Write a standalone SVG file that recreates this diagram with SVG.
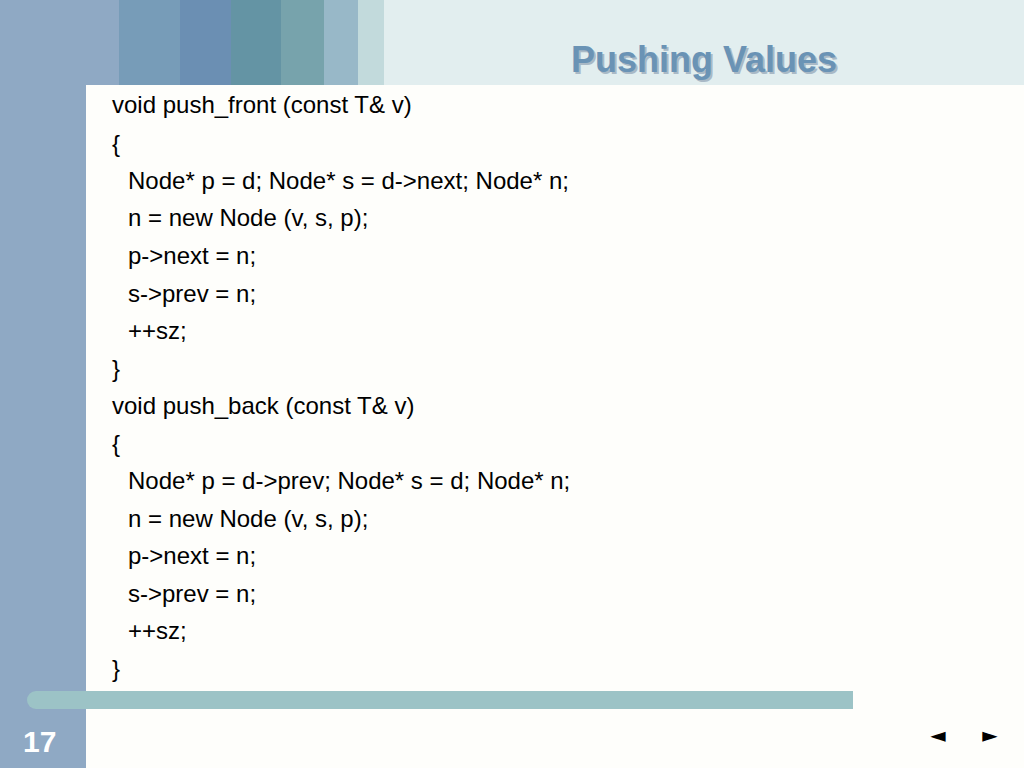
<svg xmlns="http://www.w3.org/2000/svg" width="1024" height="768" viewBox="0 0 1024 768">
<style>
.c{font-family:"Liberation Sans",Arial,sans-serif;font-size:24px;fill:#000}
</style>
<rect width="1024" height="768" fill="#fefefb"/>
<rect x="0" y="0" width="1024" height="85" fill="#e2eeef"/>
<rect x="0" y="0" width="86" height="768" fill="#8fa9c4"/>
<rect x="0" y="0" width="119" height="85" fill="#8fa9c4"/>
<rect x="119" y="0" width="61" height="85" fill="#779cb8"/>
<rect x="180" y="0" width="51" height="85" fill="#6b8fb3"/>
<rect x="231" y="0" width="50" height="85" fill="#6494a4"/>
<rect x="281" y="0" width="43" height="85" fill="#77a3ac"/>
<rect x="324" y="0" width="34" height="85" fill="#98b8c8"/>
<rect x="358" y="0" width="26" height="85" fill="#c2dadc"/>
<path d="M86 768 V115 Q86 85 116 85 H1024 V768 Z" fill="#fefefb"/>
<text x="837" y="72" text-anchor="end" font-family="'Liberation Sans',Arial,sans-serif" font-weight="bold" font-size="36" fill="#a9b9c6" transform="translate(2,2)">Pushing Values</text>
<text x="837" y="72" text-anchor="end" font-family="'Liberation Sans',Arial,sans-serif" font-weight="bold" font-size="36" fill="#6a93b5">Pushing Values</text>
<g class="c">
<text class="c" x="112" y="113">void push_front (const T&amp; v)</text>
<text class="c" x="112" y="152">{</text>
<text class="c" x="128" y="189">Node* p = d; Node* s = d-&gt;next; Node* n;</text>
<text class="c" x="128" y="226">n = new Node (v, s, p);</text>
<text class="c" x="128" y="264">p-&gt;next = n;</text>
<text class="c" x="128" y="302">s-&gt;prev = n;</text>
<text class="c" x="128" y="339">++sz;</text>
<text class="c" x="112" y="377">}</text>
<text class="c" x="112" y="414">void push_back (const T&amp; v)</text>
<text class="c" x="112" y="452">{</text>
<text class="c" x="128" y="489">Node* p = d-&gt;prev; Node* s = d; Node* n;</text>
<text class="c" x="128" y="527">n = new Node (v, s, p);</text>
<text class="c" x="128" y="564">p-&gt;next = n;</text>
<text class="c" x="128" y="602">s-&gt;prev = n;</text>
<text class="c" x="128" y="639">++sz;</text>
<text class="c" x="112" y="677">}</text>
</g>
<path d="M36 691 H853 V709 H36 A9 9 0 0 1 36 691 Z" fill="#9cc3c6"/>
<text x="23" y="752" font-family="'Liberation Sans',Arial,sans-serif" font-weight="bold" font-size="30" fill="#ffffff">17</text>
<text x="938" y="742" text-anchor="middle" font-family="'DejaVu Sans',sans-serif" font-size="20" fill="#000">◄</text>
<text x="990" y="742" text-anchor="middle" font-family="'DejaVu Sans',sans-serif" font-size="20" fill="#000">►</text>
</svg>
